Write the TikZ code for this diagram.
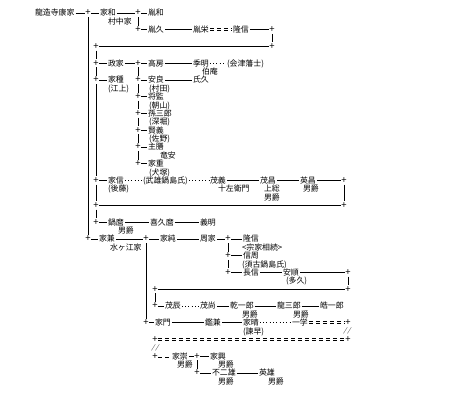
\documentclass[tikz,border=0pt]{standalone}
\usepackage{fontspec}
\newfontfamily\jp{Noto Sans CJK JP}
\begin{document}
\begin{tikzpicture}[
  txt/.style={anchor=west, inner xsep=0.8pt, inner ysep=0pt, text height=6.9pt, text depth=0.95pt, font=\jp\fontsize{7.9}{8}\selectfont},
  pl/.style={anchor=center, inner xsep=0pt, inner ysep=0pt, text height=6.9pt, text depth=0.95pt, font=\jp\fontsize{9.5}{9}\selectfont},
  ln/.style={line width=0.55pt},
  dots/.style={line width=0.9pt, dash pattern=on 0.9pt off 2.4pt},
  eq/.style={double, double distance=1.5pt, line width=0.7pt, dash pattern=on 4.5pt off 2.5pt},
  mk/.style={anchor=center, inner sep=0pt, font=\fontsize{6.5}{7}\selectfont\itshape}
]
\useasboundingbox (0,0) rectangle (474pt,-405pt);
\begin{scope}[x=1pt, y=-8.37pt, yshift=-4.63pt]
% row 1-3
\node[txt] (kouka) at (34,1) {龍造寺康家};
\node[pl] (a1) at (88,1) {+};
\node[txt] (iekazu) at (99,1) {家和};
\node[pl] (b1) at (138,1) {+};
\node[txt] (tanekazu) at (147,1) {胤和};
\node[txt] (muranaka) at (107,2) {村中家};
\node[pl] (b3) at (138,3) {+};
\node[txt] (tanehisa) at (147,3) {胤久};
\node[txt] (tanemitsu) at (192,3) {胤栄};
\node[txt] (takanobu) at (232,3) {隆信};
\node[pl] (c3) at (272,3) {+};
\node[pl] (d5) at (96,5) {+};
\node[pl] (c5) at (272,5) {+};
% rows 7-20
\node[pl] (d7) at (96,7) {+};
\node[txt] (masaie) at (107,7) {政家};
\node[pl] (b7) at (138,7) {+};
\node[txt] (takafusa) at (147,7) {高房};
\node[txt] (suemei) at (192,7) {季明};
\node[txt] (aizu) at (226,7) {(会津藩士)};
\node[txt] (hakuan) at (201,8) {伯庵};
\node[pl] (d9) at (96,9) {+};
\node[txt] (ietane) at (107,9) {家種};
\node[pl] (b9) at (138,9) {+};
\node[txt] (yasuyoshi) at (147,9) {安良};
\node[txt] (ujihisa) at (192,9) {氏久};
\node[txt] (egami) at (107,10) {(江上)};
\node[txt] (murata) at (148,10) {(村田)};
\node[pl] (b11) at (138,11) {+};
\node[txt] (shogen) at (147,11) {将監};
\node[txt] (asayama) at (148,12) {(朝山)};
\node[pl] (b13) at (138,13) {+};
\node[txt] (magosaburo) at (147,13) {孫三郎};
\node[txt] (fukahori) at (148,14) {(深堀)};
\node[pl] (b15) at (138,15) {+};
\node[txt] (kenyoshi) at (147,15) {賢義};
\node[txt] (sano) at (148,16) {(佐野)};
\node[pl] (b17) at (138,17) {+};
\node[txt] (shuzen) at (147,17) {主膳};
\node[txt] (ryuan) at (159,18) {竜安};
\node[pl] (b19) at (138,19) {+};
\node[txt] (ieshige) at (147,19) {家重};
\node[txt] (inuzuka) at (148,20) {(犬塚)};
% rows 21-27
\node[pl] (d21) at (96,21) {+};
\node[txt] (ienobu) at (107,21) {家信};
\node[txt] (takeo) at (142,21) {(武雄鍋島氏)};
\node[txt] (shigeyoshi) at (209,21) {茂義};
\node[txt] (shigemasa) at (259,21) {茂昌};
\node[txt] (hidemasa) at (299,21) {英昌};
\node[pl] (e21) at (344,21) {+};
\node[txt] (goto) at (107,22) {(後藤)};
\node[txt] (juzaemon) at (217,22) {十左衛門};
\node[txt] (kazusa) at (263,22) {上総};
\node[txt] (dan1) at (302,22) {男爵};
\node[txt] (dan2) at (263,23) {男爵};
\node[pl] (d24) at (96,24) {+};
\node[pl] (e24) at (344,24) {+};
\node[pl] (d26) at (96,26) {+};
\node[txt] (nabemaro) at (107,26) {鍋麿};
\node[txt] (kikumaro) at (149,26) {喜久麿};
\node[txt] (yoshiaki) at (199,26) {義明};
\node[txt] (dan3) at (117,27) {男爵};
% rows 28-33
\node[pl] (a28) at (88,28) {+};
\node[txt] (iekane) at (98,28) {家兼};
\node[pl] (f28) at (146,28) {+};
\node[txt] (iezumi) at (159,28) {家純};
\node[txt] (chikaie) at (199,28) {周家};
\node[pl] (g28) at (228,28) {+};
\node[txt] (takanobu2) at (242,28) {隆信};
\node[txt] (mizugae) at (109,29) {水ヶ江家};
\node[txt] (souke) at (241,29) {<宗家相続>};
\node[pl] (g30) at (228,30) {+};
\node[txt] (nobuchika) at (242,30) {信周};
\node[txt] (suko) at (241,31) {(須古鍋島氏)};
\node[pl] (g32) at (228,32) {+};
\node[txt] (naganobu) at (242,32) {長信};
\node[txt] (yasutoshi) at (282,32) {安順};
\node[pl] (h32) at (348,32) {+};
\node[txt] (taku) at (285,33) {(多久)};
% rows 34-39
\node[pl] (i34) at (155,34) {+};
\node[pl] (h34) at (348,34) {+};
\node[pl] (i36) at (155,36) {+};
\node[txt] (shigetoki) at (164,36) {茂辰};
\node[txt] (shigenao) at (199,36) {茂尚};
\node[txt] (kenichiro) at (229,36) {乾一郎};
\node[txt] (ryuzaburo) at (276,36) {龍三郎};
\node[txt] (koichiro) at (319,36) {皓一郎};
\node[txt] (dan4) at (241,37) {男爵};
\node[txt] (dan5) at (292,37) {男爵};
\node[pl] (f38) at (146,38) {+};
\node[txt] (iekado) at (154,38) {家門};
\node[txt] (akikane) at (204,38) {鑑兼};
\node[txt] (ieharu) at (242,38) {家晴};
\node[txt] (ichigaku) at (291,38) {一学};
\node[pl] (h38) at (348,38) {+};
\node[txt] (isahaya) at (242,39) {(諫早)};
\node[mk] (m39) at (347,39) {//};
% rows 40-45
\node[pl] (i40) at (155,40) {+};
\node[pl] (h40) at (348,40) {+};
\node[mk] (m41) at (155,41) {//};
\node[pl] (i42) at (155,42) {+};
\node[txt] (ietaka) at (171,42) {家崇};
\node[pl] (j42) at (197,42) {+};
\node[txt] (ieoki) at (209,42) {家興};
\node[txt] (dan6) at (176,43) {男爵};
\node[txt] (dan7) at (217,43) {男爵};
\node[pl] (j44) at (197,44) {+};
\node[txt] (fujio) at (211,44) {不二雄};
\node[txt] (hideo) at (258,44) {英雄};
\node[txt] (dan8) at (217,45) {男爵};
\node[txt] (dan9) at (267,45) {男爵};

% vertical connectors
\draw[ln] (a1.south) -- (a28.north);
\draw[ln] (b1.south) -- (b3.north);
\draw[ln] (c3.south) -- (c5.north);
\draw[ln] (d5.south) -- (d7.north);
\draw[ln] (d7.south) -- (d9.north);
\draw[ln] (d9.south) -- (d21.north);
\draw[ln] (d21.south) -- (d24.north);
\draw[ln] (d24.south) -- (d26.north);
\draw[ln] (b7.south) -- (b9.north);
\draw[ln] (b9.south) -- (b11.north);
\draw[ln] (b11.south) -- (b13.north);
\draw[ln] (b13.south) -- (b15.north);
\draw[ln] (b15.south) -- (b17.north);
\draw[ln] (b17.south) -- (b19.north);
\draw[ln] (e21.south) -- (e24.north);
\draw[ln] (f28.south) -- (f38.north);
\draw[ln] (g28.south) -- (g30.north);
\draw[ln] (g30.south) -- (g32.north);
\draw[ln] (h32.south) -- (h34.north);
\draw[ln] (i34.south) -- (i36.north);
\draw[ln] (j42.south) -- (j44.north);

% horizontal connectors
\draw[ln] (kouka) -- (a1);
\draw[ln] (a1) -- (iekazu);
\draw[ln] (iekazu) -- (b1);
\draw[ln] (b1) -- (tanekazu);
\draw[ln] (b3) -- (tanehisa);
\draw[ln] (tanehisa) -- (tanemitsu);
\draw[eq] (tanemitsu) -- (takanobu);
\draw[ln] (takanobu) -- (c3);
\draw[ln] (d5) -- (c5);
\draw[ln] (d7) -- (masaie);
\draw[ln] (masaie) -- (b7);
\draw[ln] (b7) -- (takafusa);
\draw[ln] (takafusa) -- (suemei);
\draw[dots] (suemei) -- (aizu);
\draw[ln] (d9) -- (ietane);
\draw[ln] (b9) -- (yasuyoshi);
\draw[ln] (yasuyoshi) -- (ujihisa);
\draw[ln] (b11) -- (shogen);
\draw[ln] (b13) -- (magosaburo);
\draw[ln] (b15) -- (kenyoshi);
\draw[ln] (b17) -- (shuzen);
\draw[ln] (b19) -- (ieshige);
\draw[ln] (d21) -- (ienobu);
\draw[dots] (ienobu) -- (takeo);
\draw[dots] (takeo) -- (shigeyoshi);
\draw[ln] (shigeyoshi) -- (shigemasa);
\draw[ln] (shigemasa) -- (hidemasa);
\draw[ln] (hidemasa) -- (e21);
\draw[ln] (d24) -- (e24);
\draw[ln] (d26) -- (nabemaro);
\draw[ln] (nabemaro) -- (kikumaro);
\draw[ln] (kikumaro) -- (yoshiaki);
\draw[ln] (a28) -- (iekane);
\draw[ln] (iekane) -- (f28);
\draw[ln] (f28) -- (iezumi);
\draw[ln] (iezumi) -- (chikaie);
\draw[ln] (chikaie) -- (g28);
\draw[ln] (g28) -- (takanobu2);
\draw[ln] (g30) -- (nobuchika);
\draw[ln] (g32) -- (naganobu);
\draw[ln] (naganobu) -- (yasutoshi);
\draw[ln] (yasutoshi) -- (h32);
\draw[ln] (i34) -- (h34);
\draw[ln] (i36) -- (shigetoki);
\draw[dots] (shigetoki) -- (shigenao);
\draw[ln] (shigenao) -- (kenichiro);
\draw[ln] (kenichiro) -- (ryuzaburo);
\draw[ln] (ryuzaburo) -- (koichiro);
\draw[ln] (f38) -- (iekado);
\draw[ln] (iekado) -- (akikane);
\draw[ln] (akikane) -- (ieharu);
\draw[dots] (ieharu) -- (ichigaku);
\draw[eq] (ichigaku) -- (h38);
\draw[eq] (i40) -- (h40);
\draw[eq] (i42) -- (ietaka);
\draw[ln] (ietaka) -- (j42);
\draw[ln] (j42) -- (ieoki);
\draw[ln] (j44) -- (fujio);
\draw[ln] (fujio) -- (hideo);
\end{scope}
\end{tikzpicture}
\end{document}
